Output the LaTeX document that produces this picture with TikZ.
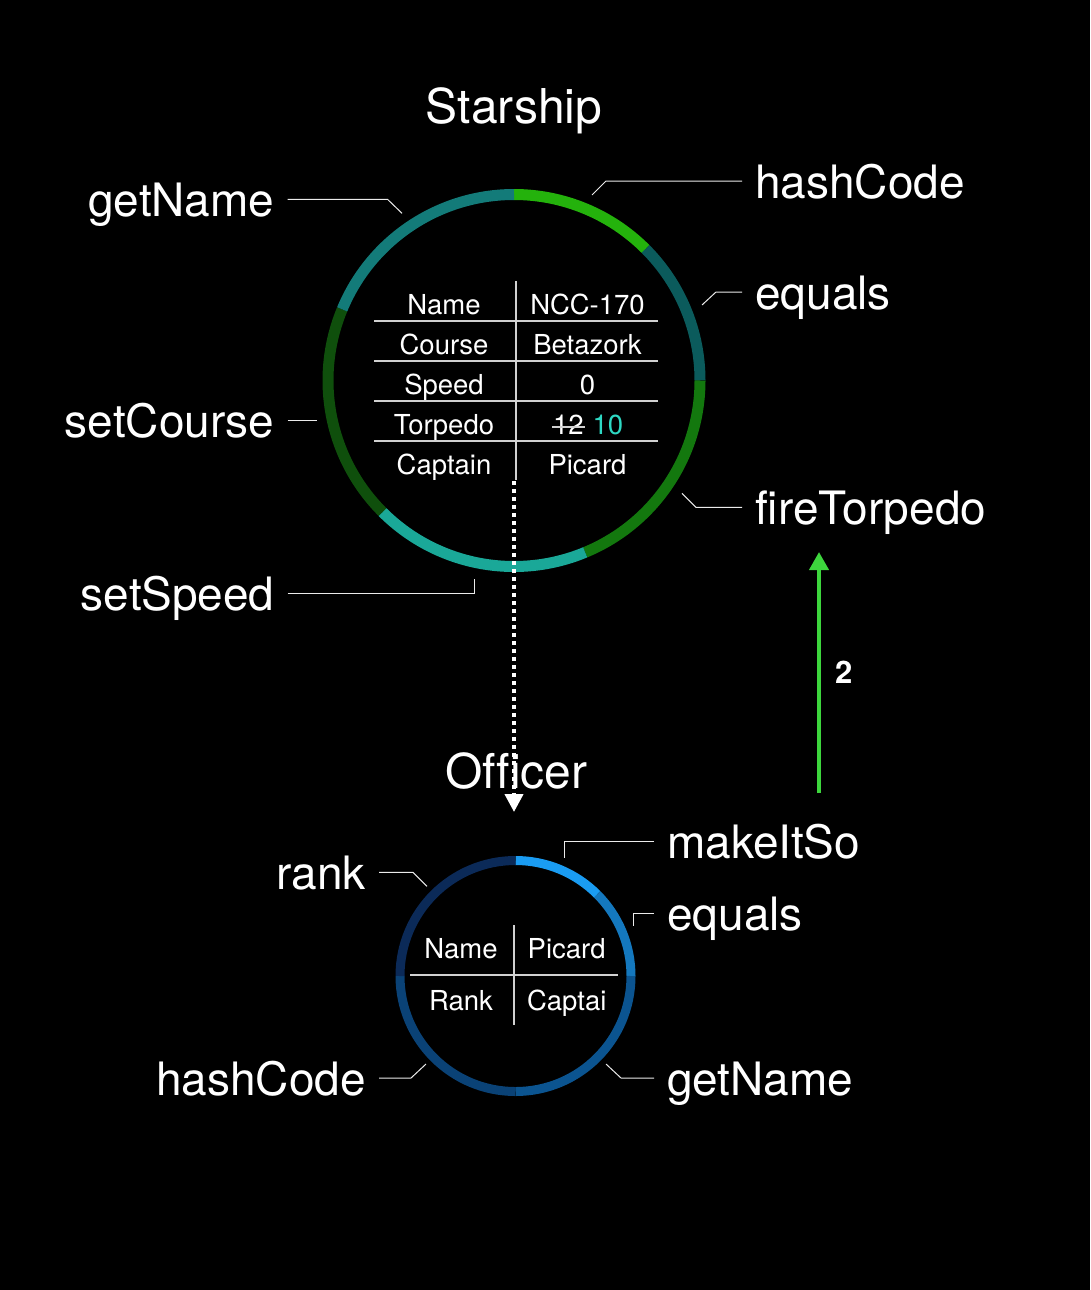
\documentclass[tikz,border=0pt]{standalone}
\usepackage{fontspec}
\setmainfont[Ligatures=NoCommon]{TeX Gyre Heros}
\usetikzlibrary{positioning,arrows.meta,calc}
\definecolor{shipHash}{HTML}{24B20C}
\definecolor{shipEquals}{HTML}{0B5B5C}
\definecolor{shipFire}{HTML}{13780E}
\definecolor{shipSpeed}{HTML}{1AA898}
\definecolor{shipCourse}{HTML}{0F4F0C}
\definecolor{shipName}{HTML}{137B79}
\definecolor{offMake}{HTML}{1A9CF2}
\definecolor{offEquals}{HTML}{1478BE}
\definecolor{offGet}{HTML}{0B5490}
\definecolor{offHash}{HTML}{0A4276}
\definecolor{offRank}{HTML}{0B2A58}
\definecolor{newVal}{HTML}{2ED8C3}
\definecolor{upGreen}{HTML}{3DD63D}

\begin{document}
\begin{tikzpicture}[x=1pt, y=1pt,
  lab/.style={text=white, inner sep=0, text height=34pt, text depth=0pt,
              font=\fontsize{46}{55}\selectfont},
  ttl/.style={text=white, inner sep=0, anchor=base, font=\fontsize{48}{58}\selectfont},
  cell/.style={text=white, inner sep=0, anchor=base, font=\fontsize{27.5}{33}\selectfont},
  num/.style={text=white, inner sep=0, font=\bfseries\fontsize{31}{37}\selectfont},
  lead/.style={draw=white!92!black, line width=1pt},
  tline/.style={draw=white!82!black, line width=1.5pt}]
\useasboundingbox (0,0) rectangle (1090,-1290);
\fill[black] (0,0) rectangle (1090,-1290);
\coordinate (ship) at (514,-380.5);
\coordinate (off) at (515.5,-976);

% Starship
\node[ttl] (shipTitle) at (514,-123) {Starship};
\foreach \a/\b/\c in {90/45/shipHash, 45/0/shipEquals, 0/-67.5/shipFire,
    -67.5/-135/shipSpeed, -135/-202.5/shipCourse, 157.5/90/shipName}
  \draw[line width=11pt, \c] ([shift={(\a:186pt)}]ship)
    arc[start angle=\a, end angle=\b, radius=186pt];
\foreach \k [count=\i from 0] in {Name,Course,Speed,Torpedo,Captain}
  \node[cell] (sk\i) at (444,{-314-40*\i}) {\k};
\foreach \v/\i in {NCC-170/0, Betazork/1, 0/2, Picard/4}
  \node[cell] (sv\i) at (587.5,{-314-40*\i}) {\v};
\node[cell, anchor=base west] (t12) at (553,-434) {12};
\node[cell, anchor=base west, text=newVal] (t10) at (592.5,-434) {10};
\draw[tline] ($(t12.base west)+(-1,7)$) -- ($(t12.base east)+(1,7)$);
\foreach \y in {321,361,401,441}
  \draw[tline] (374,-\y) -- (658,-\y);
\draw[tline] (516,-281) -- (516,-480);

\node[lab, anchor=east] (sGetName) at (274.5,-199.3) {getName};
\draw[lead] ([xshift=13pt]sGetName.east) -- ++(100,0) -- ++(14.5,-14);
\node[lab, anchor=west] (sHash) at (755,-181) {hashCode};
\draw[lead] ([xshift=-13pt]sHash.west) -- ++(-136,0) -- ++(-14,-14);
\node[lab, anchor=west] (sEquals) at (755,-292) {equals};
\draw[lead] ([xshift=-13pt]sEquals.west) -- ++(-26,0) -- ++(-14,-13);
\node[lab, anchor=east] (sCourse) at (274.5,-420) {setCourse};
\draw[lead] ([xshift=13pt]sCourse.east) -- ++(29,0);
\node[lab, anchor=west] (sFire) at (755,-507.3) {fireTorpedo};
\draw[lead] ([xshift=-13pt]sFire.west) -- ++(-46,0) -- ++(-14,14);
\node[lab, anchor=east] (sSpeed) at (274.5,-593.3) {setSpeed};
\draw[lead] ([xshift=13pt]sSpeed.east) -- ++(187,0) -- ++(0,14);

% Officer
\node[ttl] (offTitle) at (516.5,-788) {Officer};
\foreach \a/\b/\c in {90/45/offMake, 45/0/offEquals, 0/-90/offGet,
    -90/-180/offHash, 180/90/offRank}
  \draw[line width=9pt, \c] ([shift={(\a:115.5pt)}]off)
    arc[start angle=\a, end angle=\b, radius=115.5pt];
\node[cell] (ok0) at (461,-958) {Name};
\node[cell] (ov0) at (566.7,-958) {Picard};
\node[cell] (ok1) at (461,-1010) {Rank};
\node[cell] (ov1) at (566.7,-1010) {Captai};
\draw[tline] (410,-975) -- (618,-975);
\draw[tline] (514,-925) -- (514,-1025);

\node[lab, anchor=east] (oRank) at (366,-872.3) {rank};
\draw[lead] ([xshift=13pt]oRank.east) -- ++(34,0) -- ++(14,-14);
\node[lab, anchor=west] (oMake) at (667,-841) {makeItSo};
\draw[lead] ([xshift=-13pt]oMake.west) -- ++(-89.5,0) -- ++(0,-17);
\node[lab, anchor=west] (oEquals) at (667,-913.3) {equals};
\draw[lead] ([xshift=-13pt]oEquals.west) -- ++(-21,0) -- ++(0,-13);
\node[lab, anchor=east] (oHash) at (366,-1078) {hashCode};
\draw[lead] ([xshift=13pt]oHash.east) -- ++(32,0) -- ++(15,14);
\node[lab, anchor=west] (oGet) at (667,-1078) {getName};
\draw[lead] ([xshift=-13pt]oGet.west) -- ++(-33,0) -- ++(-15,14);

% calls
\coordinate (upFrom) at (819,-793);
\coordinate (upTo) at (819,-552);
\draw[line width=4pt, upGreen, -{Triangle[length=18pt,width=19pt]}]
  (upFrom) -- node[num, right=14pt] (callCount) {2} (upTo);
\coordinate (capSlot) at (514,-481);
\coordinate (offSlot) at (514,-812);
\draw[white, line width=4pt, dash pattern=on 4pt off 4pt,
  -{Triangle[length=18pt,width=18pt]}] (capSlot) -- (offSlot);
\end{tikzpicture}
\end{document}
